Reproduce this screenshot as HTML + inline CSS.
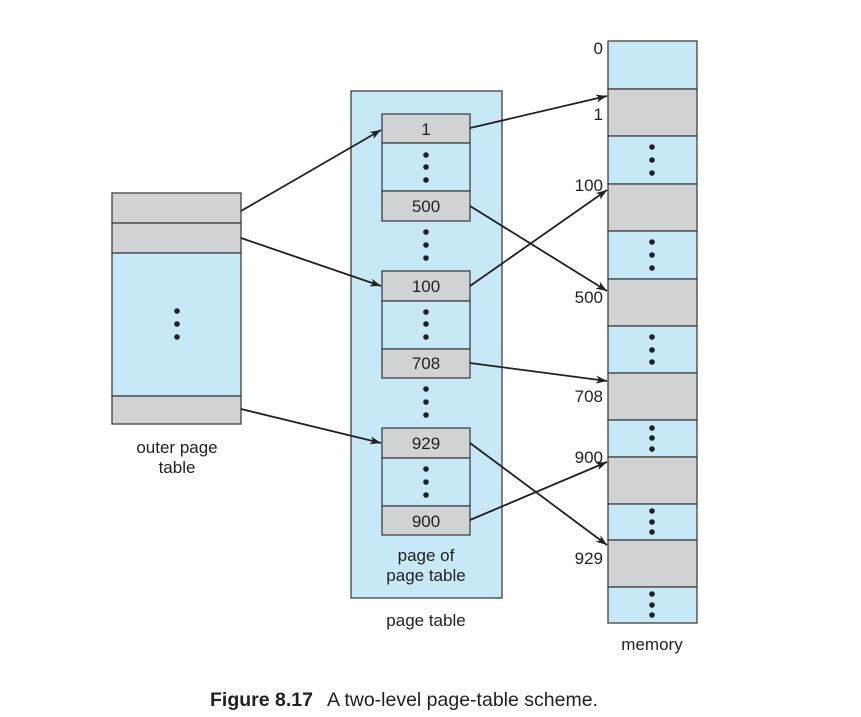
<!DOCTYPE html>
<html><head><meta charset="utf-8"><style>
html,body{margin:0;padding:0;background:#fff;}
svg{display:block;font-family:"Liberation Sans",Arial,Helvetica,sans-serif;}
svg text{font-family:"Liberation Sans",Arial,Helvetica,sans-serif;fill:#231f20;}
</style></head><body>
<svg width="861" height="717" viewBox="0 0 861 717" xmlns="http://www.w3.org/2000/svg" font-family="Liberation Sans, Arial, sans-serif">
<defs>
<marker id="a" markerWidth="11" markerHeight="8" refX="11" refY="4" orient="auto" markerUnits="userSpaceOnUse">
<path d="M0,0 L11,4 L0,8 L3,4 z" fill="#231f20"/>
</marker>
</defs>
<g stroke="#404040" stroke-width="1.3">
<rect x="112" y="193" width="129" height="30" fill="#d1d2d4"/>
<rect x="112" y="223" width="129" height="30" fill="#d1d2d4"/>
<rect x="112" y="253" width="129" height="143" fill="#c6e8f7"/>
<rect x="112" y="396" width="129" height="28" fill="#d1d2d4"/>
<rect x="351" y="91" width="151" height="507" fill="#c6e8f7"/>
<rect x="382" y="114" width="88" height="29" fill="#d1d2d4"/>
<rect x="382" y="143" width="88" height="48" fill="#c6e8f7"/>
<rect x="382" y="191" width="88" height="30" fill="#d1d2d4"/>
<rect x="382" y="271" width="88" height="30" fill="#d1d2d4"/>
<rect x="382" y="301" width="88" height="48" fill="#c6e8f7"/>
<rect x="382" y="349" width="88" height="29" fill="#d1d2d4"/>
<rect x="382" y="428" width="88" height="30" fill="#d1d2d4"/>
<rect x="382" y="458" width="88" height="48" fill="#c6e8f7"/>
<rect x="382" y="506" width="88" height="29" fill="#d1d2d4"/>
<rect x="608" y="41" width="89" height="48" fill="#c6e8f7"/>
<rect x="608" y="89" width="89" height="47" fill="#d1d2d4"/>
<rect x="608" y="136" width="89" height="48" fill="#c6e8f7"/>
<rect x="608" y="184" width="89" height="47" fill="#d1d2d4"/>
<rect x="608" y="231" width="89" height="48" fill="#c6e8f7"/>
<rect x="608" y="279" width="89" height="47" fill="#d1d2d4"/>
<rect x="608" y="326" width="89" height="47" fill="#c6e8f7"/>
<rect x="608" y="373" width="89" height="47" fill="#d1d2d4"/>
<rect x="608" y="420" width="89" height="37" fill="#c6e8f7"/>
<rect x="608" y="457" width="89" height="47" fill="#d1d2d4"/>
<rect x="608" y="504" width="89" height="36" fill="#c6e8f7"/>
<rect x="608" y="540" width="89" height="47" fill="#d1d2d4"/>
<rect x="608" y="587" width="89" height="36" fill="#c6e8f7"/>
</g>
<g fill="#231f20">
<circle cx="177" cy="311" r="2.8"/><circle cx="177" cy="324" r="2.8"/><circle cx="177" cy="337" r="2.8"/>
<circle cx="426" cy="155" r="2.8"/><circle cx="426" cy="167" r="2.8"/><circle cx="426" cy="180" r="2.8"/>
<circle cx="426" cy="232" r="2.8"/><circle cx="426" cy="245" r="2.8"/><circle cx="426" cy="258" r="2.8"/>
<circle cx="426" cy="312" r="2.8"/><circle cx="426" cy="324" r="2.8"/><circle cx="426" cy="337" r="2.8"/>
<circle cx="426" cy="389" r="2.8"/><circle cx="426" cy="402" r="2.8"/><circle cx="426" cy="415" r="2.8"/>
<circle cx="426" cy="469" r="2.8"/><circle cx="426" cy="482" r="2.8"/><circle cx="426" cy="495" r="2.8"/>
<circle cx="652" cy="147" r="2.8"/><circle cx="652" cy="160" r="2.8"/><circle cx="652" cy="173" r="2.8"/>
<circle cx="652" cy="242" r="2.8"/><circle cx="652" cy="255" r="2.8"/><circle cx="652" cy="268" r="2.8"/>
<circle cx="652" cy="337" r="2.8"/><circle cx="652" cy="350" r="2.8"/><circle cx="652" cy="362" r="2.8"/>
<circle cx="652" cy="428" r="2.8"/><circle cx="652" cy="438" r="2.8"/><circle cx="652" cy="449" r="2.8"/>
<circle cx="652" cy="511" r="2.8"/><circle cx="652" cy="522" r="2.8"/><circle cx="652" cy="532" r="2.8"/>
<circle cx="652" cy="594" r="2.8"/><circle cx="652" cy="605" r="2.8"/><circle cx="652" cy="615" r="2.8"/>
</g>
<g stroke="#231f20" stroke-width="1.8" fill="none" marker-end="url(#a)">
<line x1="241" y1="211" x2="381" y2="130"/>
<line x1="241" y1="238" x2="381" y2="286"/>
<line x1="241" y1="409" x2="381" y2="443"/>
<line x1="470" y1="128" x2="607" y2="96"/>
<line x1="470" y1="206" x2="607" y2="291"/>
<line x1="470" y1="286" x2="607" y2="190"/>
<line x1="470" y1="363" x2="607" y2="381"/>
<line x1="470" y1="443" x2="607" y2="545"/>
<line x1="470" y1="520" x2="607" y2="462"/>
</g>
<g font-size="17" text-anchor="middle">
<text x="426" y="135">1</text>
<text x="426" y="212">500</text>
<text x="426" y="292">100</text>
<text x="426" y="369">708</text>
<text x="426" y="449">929</text>
<text x="426" y="527">900</text>
<text x="426" y="561">page of</text>
<text x="426" y="581">page table</text>
<text x="426" y="626">page table</text>
<text x="177" y="453">outer page</text>
<text x="177" y="473">table</text>
<text x="652" y="650">memory</text>
</g>
<g font-size="17" text-anchor="end">
<text x="603" y="54">0</text>
<text x="603" y="120">1</text>
<text x="603" y="191">100</text>
<text x="603" y="303">500</text>
<text x="603" y="402">708</text>
<text x="603" y="463">900</text>
<text x="603" y="564">929</text>
</g>
<text x="210" y="706" font-size="19.5"><tspan font-weight="bold">Figure 8.17</tspan><tspan dx="14">A two-level page-table scheme.</tspan></text>
</svg>
</body></html>
